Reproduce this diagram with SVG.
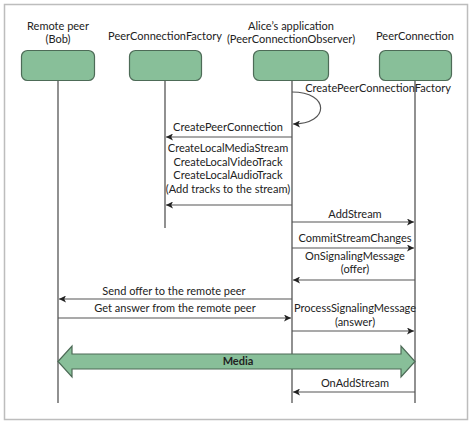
<svg xmlns="http://www.w3.org/2000/svg" width="474" height="423" viewBox="0 0 474 423">
<defs>
<marker id="ah" viewBox="0 0 10 10" refX="10" refY="5" markerWidth="7" markerHeight="7" markerUnits="userSpaceOnUse" orient="auto">
<path d="M0,0 L10,5 L0,10 L2.5,5 Z" fill="#222"/>
</marker>
<style>
text{font-family:Lato,"Open Sans","Liberation Sans",sans-serif;font-size:11px;fill:#222;text-anchor:middle}
.box{fill:#88bf99;stroke:#4d6b57;stroke-width:1.2}
.life{stroke:#555;stroke-width:1.3;fill:none}
.msg{stroke:#555;stroke-width:1.2;fill:none;marker-end:url(#ah)}
</style>
</defs>
<rect x="4.5" y="4.5" width="463" height="415" fill="#fff" stroke="#bdbdbd" stroke-width="1.5"/>
<g id="lifelines">
<line class="life" x1="58" y1="81" x2="58" y2="403"/>
<line class="life" x1="165" y1="81" x2="165" y2="228"/>
<line class="life" x1="292" y1="81" x2="292" y2="403"/>
<line class="life" x1="415" y1="81" x2="415" y2="403"/>
</g>
<g id="bob">
<rect class="box" x="21.5" y="50.5" width="73" height="30" rx="6"/>
<text x="58" y="30">Remote peer</text>
<text x="58" y="43">(Bob)</text>
</g>
<g id="factory">
<rect class="box" x="129.5" y="50.5" width="72" height="30" rx="6"/>
<text x="165" y="40">PeerConnectionFactory</text>
</g>
<g id="alice">
<rect class="box" x="253.5" y="50.5" width="75" height="30" rx="6"/>
<text x="291" y="30">Alice’s application</text>
<text x="291" y="43">(PeerConnectionObserver)</text>
</g>
<g id="peerconnection">
<rect class="box" x="379.5" y="50.5" width="72" height="30" rx="6"/>
<text x="415" y="40">PeerConnection</text>
</g>
<g id="connectors">
<path class="msg" d="M292,92 C330,92 330,124 293,124"/>
<text x="378" y="92">CreatePeerConnectionFactory</text>
<line class="msg" x1="292" y1="137" x2="166" y2="137"/>
<text x="228" y="131">CreatePeerConnection</text>
<line class="msg" x1="292" y1="205" x2="166" y2="205"/>
<text x="228" y="152">CreateLocalMediaStream</text>
<text x="228" y="166">CreateLocalVideoTrack</text>
<text x="228" y="179">CreateLocalAudioTrack</text>
<text x="228" y="193">(Add tracks to the stream)</text>
<line class="msg" x1="292" y1="222" x2="414" y2="222"/>
<text x="355" y="218">AddStream</text>
<line class="msg" x1="292" y1="248" x2="414" y2="248"/>
<text x="355" y="242">CommitStreamChanges</text>
<line class="msg" x1="415" y1="280" x2="293" y2="280"/>
<text x="355" y="260">OnSignalingMessage</text>
<text x="355" y="273">(offer)</text>
<line class="msg" x1="292" y1="299" x2="59" y2="299"/>
<text x="174" y="295">Send offer to the remote peer</text>
<line class="msg" x1="58" y1="318" x2="291" y2="318"/>
<text x="175" y="312">Get answer from the remote peer</text>
<line class="msg" x1="292" y1="331" x2="414" y2="331"/>
<text x="355" y="312">ProcessSignalingMessage</text>
<text x="355" y="326">(answer)</text>
<line class="msg" x1="415" y1="392" x2="293" y2="392"/>
<text x="355" y="387">OnAddStream</text>
</g>
<g id="media">
<path d="M58,361.5 L72,346 L72,354 L401,354 L401,346 L415,361.5 L401,377 L401,369 L72,369 L72,377 Z" fill="#88bf99" stroke="#4d6b57" stroke-width="1.2"/>
<text x="238" y="365" style="font-weight:bold">Media</text>
</g>
</svg>
